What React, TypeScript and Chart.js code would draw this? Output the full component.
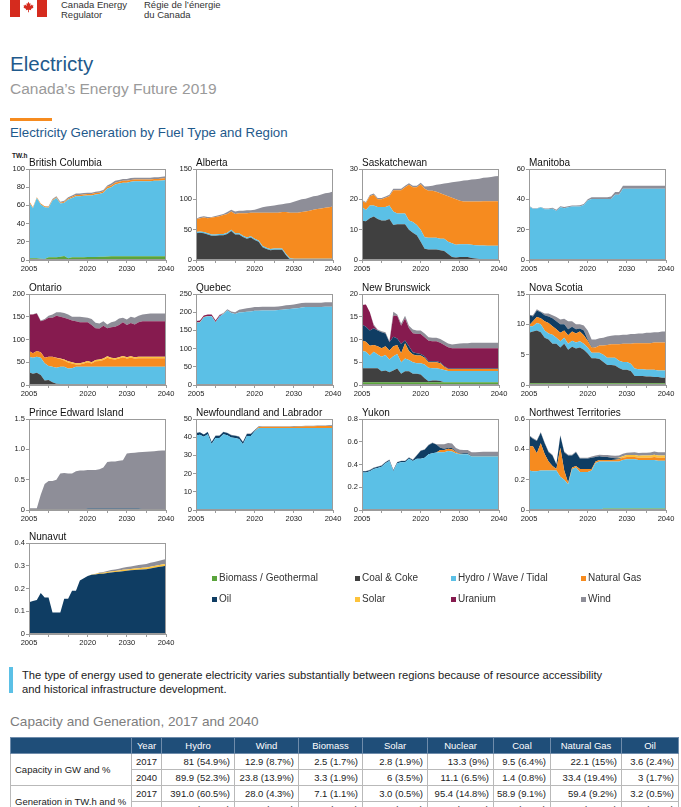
import React, { useEffect, useRef } from 'react';
import { Chart, registerables } from 'chart.js';

Chart.register(...registerables);

const FONT = '"Liberation Sans", Arial, Helvetica, sans-serif';
const AXIS_GREY = '#9b9b9b';

// ---- shared axes -------------------------------------------------------
const YEARS = [
  2005, 2006, 2007, 2008, 2009, 2010, 2011, 2012, 2013, 2014,
  2015, 2016, 2017, 2018, 2019, 2020, 2021, 2022, 2023, 2024,
  2025, 2026, 2027, 2028, 2029, 2030, 2031, 2032, 2033, 2034,
  2035, 2036, 2037, 2038, 2039, 2040,
];
const X_TICKS = [2005, 2010, 2015, 2020, 2025, 2030, 2035, 2040];
const X_LABELS = [2005, 2020, 2030, 2040];

// ---- fuels (stack order, bottom to top) -------------------------------
const FUEL_KEYS = ['biomass', 'coal', 'hydro', 'gas', 'oil', 'solar', 'uranium', 'wind'];
const FUEL_LABELS = [
  'Biomass / Geothermal', 'Coal & Coke', 'Hydro / Wave / Tidal', 'Natural Gas',
  'Oil', 'Solar', 'Uranium', 'Wind',
];
const FUEL_COLORS = [
  '#5aa43c', '#404040', '#5bc0e6', '#f68b1f',
  '#0f3d63', '#fdc33b', '#861b4f', '#8e8e98',
];

// ---- generation by region, TW.h ---------------------------------------
const BC_TICKS = ['0', '20', '40', '60', '80', '100'];
const BC_BIOMASS = [
  2, 2, 2, 1.5, 1, 3, 3, 3, 3.5, 4.5,
  2, 3, 3, 3, 3, 3.2, 3.3, 3.4, 3.5, 3.6,
  3.8, 4, 4, 4, 4, 4, 4, 4, 4, 4,
  4, 4, 4, 4, 4, 4];
const BC_HYDRO = [
  61.5, 55, 66, 59.5, 57, 54.5, 62.3, 65, 58.5, 58.5,
  64.5, 65, 67, 67, 67.5, 67.8, 67.7, 68.6, 69, 70.4,
  74.7, 76, 79, 80, 81, 81, 82, 82.5, 82.5, 82.5,
  82.5, 82.5, 83, 83, 83.5, 84];
const BC_GAS = [
  1.5, 1, 1, 1, 1, 1, 1, 1, 1, 1,
  1, 1.5, 1.5, 1.5, 1.5, 1.5, 1.5, 1.5, 1.5, 1.5,
  2, 2, 2, 2, 2, 2, 2, 2, 2, 2,
  2, 2, 2, 2, 2, 2];
const BC_WIND = [
  0, 0, 0, 0, 0, 0.5, 0.7, 1, 1, 1,
  1.5, 1.5, 1.5, 1.5, 1.5, 1.5, 1.5, 1.5, 1.5, 1.5,
  1.5, 2, 2, 2, 2, 2, 2, 2, 2, 2,
  2, 2, 2, 2, 2, 2];

const AB_TICKS = ['0', '50', '100', '150'];
const AB_BIOMASS = [
  1.5, 1.5, 1.5, 1.5, 1.5, 1.5, 1.5, 1.5, 1.5, 1.5,
  0, 0, 0, 0, 0, 0, 0, 0, 0, 0,
  0, 0, 0, 0, 0, 0, 0, 0, 0, 0,
  0, 0, 0, 0, 0, 0];
const AB_COAL = [
  42.5, 43.5, 42.5, 40.5, 38.5, 38.5, 39.5, 39.5, 41.5, 46.5,
  42, 42, 38, 35, 37, 33, 30, 21, 18, 16,
  17, 17, 17, 8, 1, 0, 0, 0, 0, 0,
  0, 0, 0, 0, 0, 0];
const AB_HYDRO = [
  2, 2, 2, 2, 2, 2, 2, 2, 2, 2,
  2, 2, 2, 2, 2, 2, 2, 2, 2, 2,
  2, 2, 2, 2, 2, 2, 2, 2, 2, 2,
  2, 2, 2, 2, 2, 2];
const AB_GAS = [
  21, 22, 24, 25, 28, 29, 29, 31, 31, 30,
  32, 33, 37, 40, 39, 43, 46, 55, 58, 60,
  59, 59, 60, 69, 75, 76, 76, 77, 78, 79,
  81, 82, 83, 84, 85, 86];
const AB_WIND = [
  1, 2, 2, 2, 1, 1.5, 2, 2, 3, 3,
  4, 4, 4, 5, 4, 5, 7, 9, 10, 11,
  12, 13, 13, 14, 16, 18, 20, 21, 21, 22,
  22, 22, 23, 24, 24, 25];

const SK_TICKS = ['0', '10', '20', '30'];
const SK_BIOMASS = [
  0, 0, 0, 0, 0, 0, 0, 0, 0, 0,
  0, 0, 0, 0, 0, 0.3, 0.3, 0.3, 0.3, 0.3,
  0.3, 0.3, 0.3, 0.3, 0.3, 0.3, 0.3, 0.3, 0.3, 0.3,
  0.3, 0.3, 0.3, 0.3, 0.3, 0.3];
const SK_COAL = [
  12.9, 12.8, 13.8, 14.3, 13.5, 13, 13, 13.5, 11.5, 11.8,
  11.8, 11.8, 10, 9, 8.2, 5.7, 3.4, 3.2, 3.2, 3.2,
  2.9, 2.7, 1.7, 0.7, 0.5, 0.7, 0.7, 0.7, 0.4, 0.2,
  0, 0, 0, 0, 0, 0];
const SK_HYDRO = [
  4.6, 3.7, 4.2, 3.7, 4, 4.5, 4.5, 4.5, 4.5, 3.5,
  3.5, 3.5, 3, 3.5, 3.3, 4, 3.8, 3.8, 3.8, 3.8,
  3.8, 4, 4, 4.5, 4.2, 4.2, 4.2, 4.2, 4.3, 4.4,
  4.5, 4.5, 4.4, 4.4, 4.4, 4.4];
const SK_GAS = [
  2, 2.3, 3, 3.5, 2.5, 2.5, 3, 3, 7, 7.7,
  7.7, 8.7, 11.8, 11.5, 12.5, 15, 16, 15.5, 15.5, 15.2,
  15, 14.5, 15, 15, 15, 14.3, 14.1, 14.1, 14.3, 14.4,
  14.5, 14.6, 14.7, 14.7, 14.7, 14.7];
const SK_WIND = [
  0.3, 0.3, 0.4, 0.4, 0.4, 0.4, 0.4, 0.5, 0.5, 0.5,
  0.5, 0.5, 0.5, 0.5, 0.5, 0.5, 0.7, 1.5, 1.7, 2.3,
  3, 3.7, 4.4, 5.1, 5.8, 6.5, 6.9, 7, 7.2, 7.3,
  7.5, 7.7, 7.8, 8, 8.2, 8.3];

const MB_TICKS = ['0', '20', '40', '60'];
const MB_HYDRO = [
  35.5, 33.8, 33.8, 34.7, 33.5, 33.5, 33.8, 32.3, 34.7, 34.2,
  34.7, 35.2, 35.2, 35.3, 36.2, 39.2, 40.3, 40.3, 40.3, 40.3,
  40.3, 40.3, 43, 43, 47, 47, 47, 47, 47, 47,
  47, 47, 47, 47, 47, 47];
const MB_WIND = [
  0.3, 0.3, 0.3, 0.3, 0.5, 0.5, 0.7, 0.8, 0.8, 0.8,
  0.8, 0.8, 0.8, 0.8, 0.8, 0.8, 1, 1, 1, 1,
  1, 1.5, 1.8, 1.8, 2, 2, 2, 2, 2, 2,
  2, 2, 2, 2, 2, 2];

const ON_TICKS = ['0', '50', '100', '150', '200'];
const ON_COAL = [
  28, 25, 27, 22, 10, 11, 6, 3, 2, 0,
  0, 0, 0, 0, 0, 0, 0, 0, 0, 0,
  0, 0, 0, 0, 0, 0, 0, 0, 0, 0,
  0, 0, 0, 0, 0, 0];
const ON_HYDRO = [
  34, 35, 35, 38, 38, 31, 34, 35, 38, 40,
  36, 37, 40, 40, 40, 40, 40, 40, 40, 40,
  40, 40, 40, 40, 40, 40, 40, 40, 40, 40,
  40, 40, 40, 40, 40, 40];
const ON_GAS = [
  13, 10, 13, 12, 12, 20, 22, 21.5, 17, 14,
  13.5, 10, 5, 5, 7, 10, 7, 12, 13, 15,
  20, 17, 16, 18, 21, 18, 20, 18, 19, 19,
  19, 19, 19, 19, 19, 19];
const ON_SOLAR = [
  0, 0, 0, 0, 0, 0, 0, 0.5, 1, 2,
  2.5, 3, 3, 3, 3, 3, 3, 3, 3, 3,
  3, 3, 3, 3, 3, 3, 3, 3, 3, 3,
  3, 3, 3, 3, 3, 3];
const ON_URANIUM = [
  80, 85, 82, 68, 83, 86, 86, 92, 92, 92,
  93, 92, 92, 90, 88, 85, 82, 70, 68, 72,
  62, 67, 69, 71, 74, 71, 73, 72, 76, 78,
  78, 78, 78, 78, 78, 78];
const ON_WIND = [
  0, 0.5, 1, 2, 2, 4, 7, 8, 10, 10,
  10, 8, 10, 12, 11, 10, 13, 12, 11, 10,
  8, 11, 12, 14, 10, 12, 14, 15, 14, 15,
  16, 17, 17, 17, 17, 17];

const QC_TICKS = ['0', '50', '100', '150', '200', '250'];
const QC_HYDRO = [
  171.5, 172, 186, 188.7, 189, 172.5, 188, 195, 205, 198,
  195, 199, 200, 201, 202, 204, 204, 205, 205, 205,
  205, 206, 207, 208, 209, 210, 211, 213, 214, 214,
  214, 214, 214, 215, 215, 215];
const QC_GAS = [
  0.5, 1, 1, 1, 0.5, 0.5, 0.5, 0.5, 0, 0,
  0, 0, 0, 0, 0, 0, 0, 0, 0, 0,
  0, 0, 0, 0, 0, 0, 0, 0, 0, 0,
  0, 0, 0, 0, 0, 0];
const QC_URANIUM = [
  4, 4, 4, 4, 4, 4, 3, 0, 0, 0,
  0, 0, 0, 0, 0, 0, 0, 0, 0, 0,
  0, 0, 0, 0, 0, 0, 0, 0, 0, 0,
  0, 0, 0, 0, 0, 0];
const QC_WIND = [
  0, 0, 0, 0.3, 0.5, 1, 1.5, 2.5, 3, 4,
  5, 8, 9, 10, 10, 10, 10, 10, 10, 10,
  10, 10, 10, 11, 11, 11, 12, 12, 12, 12,
  12, 12, 12, 12, 12, 12];

const NB_TICKS = ['0', '5', '10', '15', '20'];
const NB_BIOMASS = [
  0.6, 0.6, 0.6, 0.6, 0.6, 0.6, 0.6, 0.6, 0.6, 0.6,
  0.6, 0.6, 0.6, 0.6, 0.6, 0.6, 0.6, 0.6, 0.6, 0.6,
  0.6, 0.6, 0.6, 0.6, 0.6, 0.6, 0.6, 0.6, 0.6, 0.6,
  0.6, 0.6, 0.6, 0.6, 0.6, 0.6];
const NB_COAL = [
  3.1, 3.1, 3.1, 3.1, 3.1, 2.4, 2.6, 2.2, 2.6, 3.0,
  1.9, 2.4, 2.4, 1.9, 1.9, 1.7, 0.9, 0.2, 0.4, 0.4,
  0.3, 0, 0, 0, 0, 0, 0, 0, 0, 0,
  0, 0, 0, 0, 0, 0];
const NB_HYDRO = [
  3.8, 3.6, 2.8, 3.6, 3.0, 3.2, 3.4, 2.8, 3.1, 3.2,
  2.5, 2.8, 2.5, 2.5, 2.3, 2.5, 3.0, 3.0, 2.7, 2.7,
  2.6, 2.7, 2.5, 2.5, 2.5, 2.5, 2.5, 2.5, 2.5, 2.5,
  2.5, 2.5, 2.5, 2.5, 2.5, 2.5];
const NB_GAS = [
  2.3, 2.2, 2.1, 1.5, 1.8, 1.9, 1.9, 2.0, 2.2, 2.0,
  2.0, 3.4, 2.0, 1.7, 1.7, 1.7, 1.5, 1.2, 1.3, 1.3,
  1.3, 0.7, 0.4, 0.4, 0.4, 0.4, 0.4, 0.4, 0.4, 0.4,
  0.4, 0.4, 0.4, 0.4, 0.4, 0.4];
const NB_OIL = [
  3.5, 3.3, 3.4, 3.7, 3.5, 3.5, 2.8, 1.8, 2.1, 1.4,
  2.0, 0.6, 1.0, 0.5, 0.5, 0.3, 0.3, 0.2, 0.2, 0.2,
  0.2, 0.2, 0.1, 0.1, 0.1, 0.1, 0.1, 0.1, 0.1, 0.1,
  0.1, 0.1, 0.1, 0.1, 0.1, 0.1];
const NB_URANIUM = [
  4.3, 4.9, 4.0, 0.5, 0, 0, 0, 0, 4.6, 5.0,
  4.0, 4.8, 4.0, 4.2, 4.2, 4.4, 4.2, 4.5, 4.4, 4.4,
  4.3, 4.6, 4.7, 4.5, 4.5, 4.5, 4.5, 4.5, 4.5, 4.5,
  4.5, 4.5, 4.5, 4.5, 4.5, 4.5];
const NB_WIND = [
  0, 0, 0, 0.3, 0.2, 0.2, 0.3, 0.2, 0.9, 0.3,
  0.5, 0.6, 0.5, 0.8, 0.8, 0.8, 0.8, 0.8, 0.8, 0.8,
  0.8, 0.8, 0.8, 0.8, 0.9, 1.0, 1.1, 1.1, 1.2, 1.2,
  1.2, 1.2, 1.2, 1.2, 1.2, 1.2];

const NS_TICKS = ['0', '5', '10', '15'];
const NS_BIOMASS = [
  0.3, 0.3, 0.3, 0.3, 0.3, 0.3, 0.3, 0.3, 0.3, 0.3,
  0.3, 0.3, 0.3, 0.3, 0.3, 0.3, 0.3, 0.3, 0.3, 0.3,
  0.3, 0.3, 0.3, 0.3, 0.3, 0.3, 0.3, 0.3, 0.3, 0.3,
  0.3, 0.3, 0.3, 0.3, 0.3, 0.3];
const NS_COAL = [
  8.3, 8.5, 8.7, 8.4, 7.5, 7.2, 6.5, 6.5, 5.9, 6.5,
  5.5, 6, 5.7, 5.9, 5.5, 4.9, 4.1, 4.1, 4, 3.5,
  3, 3, 2.9, 2.5, 2.2, 2.2, 2, 1.2, 1.2, 1.2,
  1.1, 1.1, 1, 1, 0.9, 0.9];
const NS_HYDRO = [
  1.1, 0.9, 1.2, 1.3, 1.2, 1, 1.5, 1, 1, 1,
  1, 1, 1, 1, 1, 1, 0.9, 0.9, 1, 1.2,
  1.2, 1.2, 1.3, 1.2, 1.3, 1.3, 1.2, 1.2, 1.1, 1.1,
  1.1, 1.1, 1.2, 1.1, 1.2, 1.2];
const NS_GAS = [
  0.1, 0.8, 1.0, 1.0, 1.5, 1.7, 1.4, 1.4, 1.4, 1.2,
  1.4, 1.5, 1.5, 1.6, 1.4, 1.1, 0.9, 0.9, 1.2, 1.5,
  2.1, 2.2, 2.2, 2.7, 3.0, 3.0, 3.3, 4.2, 4.3, 4.3,
  4.4, 4.4, 4.5, 4.6, 4.6, 4.6];
const NS_OIL = [
  1.8, 0.8, 1.1, 1.0, 1.0, 1.1, 1.3, 1.3, 1.4, 1.0,
  1.0, 0.8, 0.7, 0.5, 0.8, 0.2, 0.1, 0, 0, 0,
  0, 0, 0, 0, 0, 0, 0, 0, 0, 0,
  0, 0, 0, 0, 0, 0];
const NS_WIND = [
  0, 0.2, 0.2, 0.1, 0.3, 0.5, 0.5, 0.7, 0.8, 0.9,
  1.3, 0.9, 0.8, 0.7, 0.8, 1.5, 1.2, 1.3, 1.2, 1.3,
  1.4, 1.4, 1.5, 1.5, 1.5, 1.5, 1.6, 1.5, 1.6, 1.6,
  1.7, 1.7, 1.7, 1.7, 1.8, 1.8];

const PE_TICKS = ['0', '0.5', '1.0', '1.5'];
const PE_OIL = [
  0, 0, 0, 0, 0, 0, 0, 0, 0, 0,
  0, 0, 0, 0, 0.01, 0.025, 0.025, 0.025, 0.025, 0.025,
  0.025, 0.025, 0.025, 0.025, 0.025, 0.025, 0.025, 0.025, 0.025, 0.015,
  0.005, 0.005, 0.005, 0.005, 0.005, 0.005];
const PE_WIND = [
  0.03, 0.03, 0.03, 0.25, 0.43, 0.48, 0.48, 0.5, 0.6, 0.61,
  0.6, 0.6, 0.64, 0.65, 0.64, 0.635, 0.635, 0.635, 0.645, 0.675,
  0.765, 0.775, 0.775, 0.785, 0.795, 0.905, 0.915, 0.92, 0.925, 0.94,
  0.955, 0.96, 0.965, 0.97, 0.975, 0.975];

const NL_TICKS = ['0', '10', '20', '30', '40', '50'];
const NL_HYDRO = [
  41, 41.4, 40.2, 41.6, 36.2, 39.6, 39.6, 41.6, 41.1, 39.8,
  39.5, 39, 36.1, 40.6, 40.6, 43.3, 45, 45.1, 45.1, 45.1,
  45.1, 45.1, 45.1, 45.1, 45.1, 45.1, 45.1, 45.1, 45.1, 45.1,
  45.1, 45.1, 45.1, 45.1, 45.1, 45.1];
const NL_GAS = [
  0, 0, 0, 0, 0, 0, 0, 0, 0, 0,
  0, 0, 0, 0, 0, 0, 0.6, 0.6, 0.6, 0.6,
  0.6, 0.6, 0.6, 0.6, 0.6, 0.7, 0.8, 0.8, 0.9, 0.9,
  0.9, 1, 1, 1, 1.1, 1.1];
const NL_OIL = [
  1.3, 1.3, 1.3, 1.3, 1.1, 1.2, 1.2, 1.2, 1.2, 1.3,
  1.3, 1.3, 1.2, 1.2, 1.2, 0.5, 0.2, 0.1, 0.1, 0.1,
  0.1, 0.1, 0.1, 0.1, 0.1, 0.1, 0.1, 0.1, 0.1, 0.1,
  0.1, 0.1, 0.1, 0.1, 0.1, 0.1];
const NL_WIND = [
  0, 0, 0, 0.1, 0.2, 0.2, 0.2, 0.2, 0.2, 0.2,
  0.2, 0.2, 0.2, 0.2, 0.2, 0.2, 0.2, 0.2, 0.2, 0.2,
  0.2, 0.2, 0.2, 0.2, 0.2, 0.2, 0.2, 0.2, 0.2, 0.2,
  0.2, 0.2, 0.2, 0.2, 0.2, 0.2];

const YT_TICKS = ['0', '0.2', '0.4', '0.6', '0.8'];
const YT_BIOMASS = [
  0, 0, 0, 0, 0, 0, 0, 0, 0, 0,
  0, 0, 0, 0, 0, 0, 0, 0, 0, 0.005,
  0.008, 0.008, 0.008, 0.005, 0, 0, 0, 0, 0, 0,
  0, 0, 0, 0, 0, 0];
const YT_HYDRO = [
  0.33, 0.33, 0.34, 0.36, 0.37, 0.38, 0.41, 0.43, 0.34, 0.41,
  0.42, 0.42, 0.45, 0.43, 0.45, 0.45, 0.46, 0.49, 0.5, 0.5,
  0.5, 0.5, 0.51, 0.51, 0.5, 0.49, 0.49, 0.49, 0.47, 0.47,
  0.47, 0.47, 0.47, 0.47, 0.47, 0.47];
const YT_GAS = [
  0, 0, 0, 0, 0, 0, 0, 0, 0, 0,
  0, 0, 0, 0, 0, 0, 0, 0, 0, 0,
  0.02, 0.02, 0.02, 0.02, 0.01, 0.005, 0.003, 0.003, 0.003, 0.003,
  0.003, 0.003, 0.003, 0.003, 0.003, 0.003];
const YT_OIL = [
  0.01, 0.01, 0.01, 0.01, 0.01, 0.01, 0.01, 0.01, 0.01, 0.01,
  0.01, 0.01, 0.01, 0.01, 0.03, 0.07, 0.07, 0.08, 0.09, 0.07,
  0.02, 0.01, 0.01, 0.01, 0.005, 0.005, 0.005, 0.005, 0.005, 0.005,
  0.005, 0.005, 0.005, 0.005, 0.005, 0.005];
const YT_WIND = [
  0.003, 0.003, 0.003, 0.003, 0.003, 0.003, 0.003, 0.003, 0.003, 0.003,
  0.003, 0.003, 0.003, 0.003, 0.003, 0.003, 0.003, 0.003, 0.003, 0.003,
  0.03, 0.04, 0.04, 0.04, 0.03, 0.03, 0.03, 0.03, 0.03, 0.03,
  0.032, 0.033, 0.034, 0.035, 0.035, 0.035];

const NT_TICKS = ['0', '0.2', '0.4', '0.6'];
const NT_BIOMASS = [
  0, 0, 0, 0, 0, 0, 0, 0, 0, 0,
  0, 0, 0, 0, 0, 0, 0, 0, 0, 0.01,
  0.01, 0.01, 0.01, 0.01, 0.01, 0.01, 0.01, 0.01, 0.01, 0.01,
  0.01, 0.01, 0.01, 0.01, 0.01, 0.01];
const NT_HYDRO = [
  0.26, 0.255, 0.255, 0.26, 0.26, 0.26, 0.26, 0.26, 0.22, 0.2,
  0.17, 0.27, 0.28, 0.25, 0.25, 0.25, 0.26, 0.31, 0.32, 0.31,
  0.31, 0.31, 0.31, 0.31, 0.32, 0.325, 0.325, 0.325, 0.32, 0.32,
  0.32, 0.32, 0.32, 0.315, 0.315, 0.315];
const NT_GAS = [
  0.16, 0.165, 0.12, 0.18, 0.11, 0.06, 0.03, 0.01, 0.19, 0.06,
  0.01, 0.01, 0.01, 0.02, 0.02, 0.02, 0.01, 0.01, 0.01, 0.01,
  0.01, 0.01, 0.012, 0.015, 0.015, 0.015, 0.015, 0.015, 0.015, 0.015,
  0.015, 0.015, 0.02, 0.02, 0.02, 0.02];
const NT_OIL = [
  0.07, 0.05, 0.08, 0.07, 0.07, 0.06, 0.07, 0.03, 0.08, 0.12,
  0.18, 0.08, 0.09, 0.07, 0.07, 0.07, 0.075, 0.03, 0.025, 0.02,
  0.02, 0.015, 0.01, 0.005, 0, 0, 0, 0, 0, 0,
  0, 0, 0, 0, 0, 0];
const NT_SOLAR = [
  0, 0, 0, 0, 0, 0, 0, 0, 0, 0,
  0, 0, 0, 0, 0, 0, 0, 0, 0, 0,
  0, 0, 0, 0.005, 0.01, 0.012, 0.012, 0.013, 0.013, 0.014,
  0.014, 0.015, 0.015, 0.015, 0.015, 0.015];
const NT_WIND = [
  0.005, 0.005, 0.005, 0.005, 0.005, 0.005, 0.005, 0.005, 0.005, 0.005,
  0.005, 0.005, 0.005, 0.005, 0.005, 0.005, 0.008, 0.01, 0.01, 0.012,
  0.013, 0.014, 0.015, 0.015, 0.016, 0.016, 0.017, 0.017, 0.018, 0.018,
  0.019, 0.019, 0.02, 0.02, 0.02, 0.02];

const NU_TICKS = ['0', '0.1', '0.2', '0.3', '0.4'];
const NU_OIL = [
  0.14, 0.145, 0.15, 0.18, 0.16, 0.16, 0.095, 0.095, 0.095, 0.155,
  0.155, 0.19, 0.19, 0.235, 0.245, 0.255, 0.26, 0.262, 0.265, 0.265,
  0.268, 0.27, 0.272, 0.274, 0.276, 0.278, 0.28, 0.281, 0.282, 0.284,
  0.285, 0.288, 0.291, 0.294, 0.297, 0.3];
const NU_SOLAR = [
  0, 0, 0, 0, 0, 0, 0, 0, 0, 0,
  0, 0, 0, 0, 0, 0, 0.002, 0.003, 0.003, 0.004,
  0.004, 0.005, 0.005, 0.005, 0.006, 0.006, 0.006, 0.007, 0.007, 0.007,
  0.007, 0.008, 0.008, 0.008, 0.008, 0.008];
const NU_WIND = [
  0, 0, 0, 0, 0, 0, 0, 0, 0, 0,
  0, 0, 0, 0, 0, 0, 0, 0, 0.002, 0.004,
  0.005, 0.006, 0.007, 0.008, 0.009, 0.01, 0.011, 0.012, 0.014, 0.015,
  0.016, 0.017, 0.018, 0.019, 0.02, 0.022];

const REGIONS = [
  { name: 'British Columbia', ticks: BC_TICKS, series: { biomass: BC_BIOMASS, hydro: BC_HYDRO, gas: BC_GAS, wind: BC_WIND } },
  { name: 'Alberta', ticks: AB_TICKS, series: { biomass: AB_BIOMASS, coal: AB_COAL, hydro: AB_HYDRO, gas: AB_GAS, wind: AB_WIND } },
  { name: 'Saskatchewan', ticks: SK_TICKS, series: { biomass: SK_BIOMASS, coal: SK_COAL, hydro: SK_HYDRO, gas: SK_GAS, wind: SK_WIND } },
  { name: 'Manitoba', ticks: MB_TICKS, series: { hydro: MB_HYDRO, wind: MB_WIND } },
  { name: 'Ontario', ticks: ON_TICKS, series: { coal: ON_COAL, hydro: ON_HYDRO, gas: ON_GAS, solar: ON_SOLAR, uranium: ON_URANIUM, wind: ON_WIND } },
  { name: 'Quebec', ticks: QC_TICKS, series: { hydro: QC_HYDRO, gas: QC_GAS, uranium: QC_URANIUM, wind: QC_WIND } },
  { name: 'New Brunswick', ticks: NB_TICKS, series: { biomass: NB_BIOMASS, coal: NB_COAL, hydro: NB_HYDRO, gas: NB_GAS, oil: NB_OIL, uranium: NB_URANIUM, wind: NB_WIND } },
  { name: 'Nova Scotia', ticks: NS_TICKS, series: { biomass: NS_BIOMASS, coal: NS_COAL, hydro: NS_HYDRO, gas: NS_GAS, oil: NS_OIL, wind: NS_WIND } },
  { name: 'Prince Edward Island', ticks: PE_TICKS, series: { oil: PE_OIL, wind: PE_WIND } },
  { name: 'Newfoundland and Labrador', ticks: NL_TICKS, series: { hydro: NL_HYDRO, gas: NL_GAS, oil: NL_OIL, wind: NL_WIND } },
  { name: 'Yukon', ticks: YT_TICKS, series: { biomass: YT_BIOMASS, hydro: YT_HYDRO, gas: YT_GAS, oil: YT_OIL, wind: YT_WIND } },
  { name: 'Northwest Territories', ticks: NT_TICKS, series: { biomass: NT_BIOMASS, hydro: NT_HYDRO, gas: NT_GAS, oil: NT_OIL, solar: NT_SOLAR, wind: NT_WIND } },
  { name: 'Nunavut', ticks: NU_TICKS, series: { oil: NU_OIL, solar: NU_SOLAR, wind: NU_WIND } },
];

// ---- capacity / generation table --------------------------------------
const TABLE_HEAD = ['Year', 'Hydro', 'Wind', 'Biomass', 'Solar', 'Nuclear', 'Coal', 'Natural Gas', 'Oil'];
const CAPACITY_2017 = ['81 (54.9%)', '12.9 (8.7%)', '2.5 (1.7%)', '2.8 (1.9%)', '13.3 (9%)', '9.5 (6.4%)', '22.1 (15%)', '3.6 (2.4%)'];
const CAPACITY_2040 = ['89.9 (52.3%)', '23.8 (13.9%)', '3.3 (1.9%)', '6 (3.5%)', '11.1 (6.5%)', '1.4 (0.8%)', '33.4 (19.4%)', '3 (1.7%)'];
const GENERATION_2017 = ['391.0 (60.5%)', '28.0 (4.3%)', '7.1 (1.1%)', '3.0 (0.5%)', '95.4 (14.8%)', '58.9 (9.1%)', '59.4 (9.2%)', '3.2 (0.5%)'];
const GENERATION_2040 = ['441.0 (59.9%)', '67.1 (9.1%)', '10.5 (1.4%)', '5.6 (0.8%)', '81.9 (11.1%)', '1.2 (0.2%)', '126.9 (17.2%)', '1.7 (0.2%)'];

// ---- layout ------------------------------------------------------------
const COL_LEFT = [29, 196, 362, 529];
const ROW_TOP = [169, 294, 419, 543];
const PLOT_W = 137;
const PLOT_H = 91;
const AXIS_W = 28;
const TITLE_H = 18;
const XAXIS_H = 14;
const PAD_RIGHT = 9;
const CANVAS_W = AXIS_W + PLOT_W + PAD_RIGHT;
const CANVAS_H = TITLE_H + PLOT_H + XAXIS_H;

const framePlugin = {
  id: 'plotFrame',
  afterDraw(chart: any) {
    const { ctx, chartArea: a } = chart;
    ctx.save();
    ctx.strokeStyle = AXIS_GREY;
    ctx.lineWidth = 1;
    ctx.strokeRect(Math.round(a.left) + 0.5, Math.round(a.top) + 0.5,
      Math.round(a.right - a.left) - 1, Math.round(a.bottom - a.top) - 1);
    ctx.restore();
  },
};

type RegionDef = { name: string; ticks: string[]; series: Record<string, number[]> };

function RegionChart({ region, left, top }: { region: RegionDef; left: number; top: number }) {
  const ref = useRef<HTMLCanvasElement | null>(null);

  useEffect(() => {
    const canvas = ref.current;
    if (!canvas) return;
    const present = FUEL_KEYS.map((k, i) => ({ k, i })).filter(({ k }) => region.series[k]);
    const datasets = present.map(({ k, i }, n) => ({
      label: FUEL_LABELS[i],
      data: YEARS.map((yr, j) => ({ x: yr, y: region.series[k][j] })),
      backgroundColor: FUEL_COLORS[i],
      borderColor: 'rgba(0,0,0,0)',
      borderWidth: 0,
      pointRadius: 0,
      pointHoverRadius: 0,
      tension: 0,
      fill: n === 0 ? 'origin' : '-1',
    }));
    const tickValues = region.ticks.map(Number);
    const tickFont = { family: FONT, size: 7.5 };

    const chart = new Chart(canvas, {
      type: 'line',
      data: { datasets },
      options: {
        animation: false,
        responsive: false,
        events: [],
        layout: { padding: { top: 6, right: PAD_RIGHT, bottom: 0, left: 0 } },
        plugins: {
          legend: { display: false },
          tooltip: { enabled: false },
          title: {
            display: true,
            text: region.name,
            align: 'start',
            fullSize: false,
            color: '#111',
            font: { family: FONT, size: 10, weight: 'normal', lineHeight: 1.2 },
            padding: { top: 0, bottom: 0 },
          },
        },
        scales: {
          x: {
            type: 'linear',
            min: 2005,
            max: 2040,
            afterBuildTicks: (s: any) => { s.ticks = X_TICKS.map((v) => ({ value: v })); },
            afterFit: (s: any) => { s.height = XAXIS_H; s.paddingLeft = 0; s.paddingRight = 0; },
            ticks: {
              autoSkip: false,
              maxRotation: 0,
              minRotation: 0,
              padding: 1,
              color: '#222',
              font: tickFont,
              callback: (v: any) => (X_LABELS.includes(Number(v)) ? String(v) : ''),
            },
            grid: { drawOnChartArea: false, drawTicks: true, tickLength: 3, color: AXIS_GREY },
            border: { display: true, color: AXIS_GREY },
          },
          y: {
            type: 'linear',
            stacked: true,
            min: 0,
            max: tickValues[tickValues.length - 1],
            afterBuildTicks: (s: any) => { s.ticks = tickValues.map((v) => ({ value: v })); },
            afterFit: (s: any) => { s.width = AXIS_W; },
            ticks: {
              autoSkip: false,
              padding: 1,
              color: '#222',
              font: tickFont,
              callback: (_v: any, i: number) => region.ticks[i],
            },
            grid: { drawOnChartArea: false, drawTicks: true, tickLength: 3, color: AXIS_GREY },
            border: { display: true, color: AXIS_GREY },
          },
        },
      },
      plugins: [framePlugin],
    } as any);
    return () => chart.destroy();
  }, [region]);

  return (
    <canvas
      ref={ref}
      width={CANVAS_W}
      height={CANVAS_H}
      style={{ position: 'absolute', left: left - AXIS_W, top: top - TITLE_H, width: CANVAS_W, height: CANVAS_H }}
    />
  );
}

const LEGEND_X = [212, 355, 451, 581];
const LEGEND_Y = [576, 597];

function MapleFlag() {
  const leaf = [
    [0, -5], [1, -3.2], [2, -3.6], [1.6, -1], [3.6, -2.6], [3.2, -1.6], [4.8, -1.4], [4.2, 0],
    [4.8, 0.6], [2.2, 2], [2.6, 3], [0.4, 2.6], [0.4, 5], [-0.4, 5], [-0.4, 2.6], [-2.6, 3],
    [-2.2, 2], [-4.8, 0.6], [-4.2, 0], [-4.8, -1.4], [-3.2, -1.6], [-3.6, -2.6], [-1.6, -1],
    [-2, -3.6], [-1, -3.2],
  ].map(([x, y]) => `${18.5 + x * 1.05},${9 + y * 1.05}`).join(' ');
  return (
    <svg width={37} height={19} style={{ position: 'absolute', left: 10, top: -2 }}>
      <rect x={0} y={0} width={10} height={19} fill="#d52b1e" />
      <rect x={27} y={0} width={10} height={19} fill="#d52b1e" />
      <polygon points={leaf} fill="#d52b1e" />
    </svg>
  );
}

const cellBorder = '1px solid #b9b9b9';

export default function App() {
  const abs = (style: React.CSSProperties): React.CSSProperties => ({ position: 'absolute', margin: 0, ...style });

  return (
    <div style={{ position: 'absolute', left: 0, top: 0, width: 681, height: 807, overflow: 'hidden', background: '#fff', fontFamily: FONT }}>
      <MapleFlag />
      <div style={abs({ left: 61, top: 0, fontSize: 9.5, lineHeight: '9.5px', color: '#333' })}>Canada Energy<br />Regulator</div>
      <div style={abs({ left: 144, top: 0, fontSize: 9.5, lineHeight: '9.5px', color: '#333' })}>Régie de l’énergie<br />du Canada</div>

      <div style={abs({ left: 10, top: 52, fontSize: 20.5, lineHeight: '24px', color: '#1f5a8c', whiteSpace: 'nowrap' })}>Electricty</div>
      <div style={abs({ left: 10, top: 80, fontSize: 15.5, lineHeight: '18px', color: '#9a9a9a', whiteSpace: 'nowrap' })}>Canada’s Energy Future 2019</div>
      <div style={abs({ left: 10, top: 118, width: 42, height: 3, background: '#f68b1f' })} />
      <div style={abs({ left: 10, top: 125, fontSize: 13.3, lineHeight: '16px', color: '#1f5a8c', whiteSpace: 'nowrap' })}>Electricity Generation by Fuel Type and Region</div>

      <div style={abs({ left: 12, top: 151.5, fontSize: 6.5, lineHeight: '8px', fontWeight: 'bold', color: '#222' })}>TW.h</div>

      {REGIONS.map((r, i) => (
        <RegionChart key={r.name} region={r} left={COL_LEFT[i % 4]} top={ROW_TOP[Math.floor(i / 4)]} />
      ))}

      {FUEL_LABELS.map((label, i) => {
        const x = LEGEND_X[i % 4];
        const y = LEGEND_Y[Math.floor(i / 4)];
        return (
          <React.Fragment key={label}>
            <div style={abs({ left: x, top: y, width: 4.5, height: 4.5, background: FUEL_COLORS[i] })} />
            <div style={abs({ left: x + 7, top: y - 4.5, fontSize: 10, lineHeight: '12px', color: '#333', whiteSpace: 'nowrap' })}>{label}</div>
          </React.Fragment>
        );
      })}

      <div style={abs({ left: 9, top: 667, width: 4, height: 26, background: '#5bc0e6' })} />
      <div style={abs({ left: 22, top: 668, fontSize: 11.2, lineHeight: '14px', color: '#222', whiteSpace: 'nowrap' })}>
        The type of energy used to generate electricity varies substantially between regions because of resource accessibility<br />
        and historical infrastructure development.
      </div>

      <div style={abs({ left: 10, top: 714, fontSize: 13.6, lineHeight: '16px', color: '#7d7d7d', whiteSpace: 'nowrap' })}>Capacity and Generation, 2017 and 2040</div>

      <table style={abs({ left: 10, top: 737, width: 668, borderCollapse: 'collapse', tableLayout: 'fixed', fontSize: 9.5, color: '#222' })}>
        <colgroup>
          {[121, 30, 73, 64, 64, 65, 66, 57, 71, 57].map((w, i) => <col key={i} style={{ width: w }} />)}
        </colgroup>
        <thead>
          <tr style={{ height: 16 }}>
            <th style={{ background: '#1f4e79', border: '1px solid #6f8cab', padding: 0 }} />
            {TABLE_HEAD.map((h) => (
              <th key={h} style={{ background: '#1f4e79', color: '#fff', fontWeight: 'normal', border: '1px solid #6f8cab', padding: 0, lineHeight: '14px', textAlign: 'center', whiteSpace: 'nowrap' }}>{h}</th>
            ))}
          </tr>
        </thead>
        <tbody>
          {[
            { label: 'Capacity in GW and %', year: '2017', cells: CAPACITY_2017, first: true },
            { label: '', year: '2040', cells: CAPACITY_2040, first: false },
            { label: 'Generation in TW.h and %', year: '2017', cells: GENERATION_2017, first: true },
            { label: '', year: '2040', cells: GENERATION_2040, first: false },
          ].map((row, ri) => (
            <tr key={ri} style={{ height: 16 }}>
              {row.first && (
                <td rowSpan={2} style={{ border: cellBorder, padding: '0 4px', verticalAlign: 'middle', whiteSpace: 'nowrap' }}>{row.label}</td>
              )}
              <td style={{ border: cellBorder, padding: 0, textAlign: 'center', lineHeight: '14px' }}>{row.year}</td>
              {row.cells.map((c, ci) => (
                <td key={ci} style={{ border: cellBorder, padding: '0 4px 0 0', textAlign: 'right', lineHeight: '14px', whiteSpace: 'nowrap' }}>{c}</td>
              ))}
            </tr>
          ))}
        </tbody>
      </table>
    </div>
  );
}
